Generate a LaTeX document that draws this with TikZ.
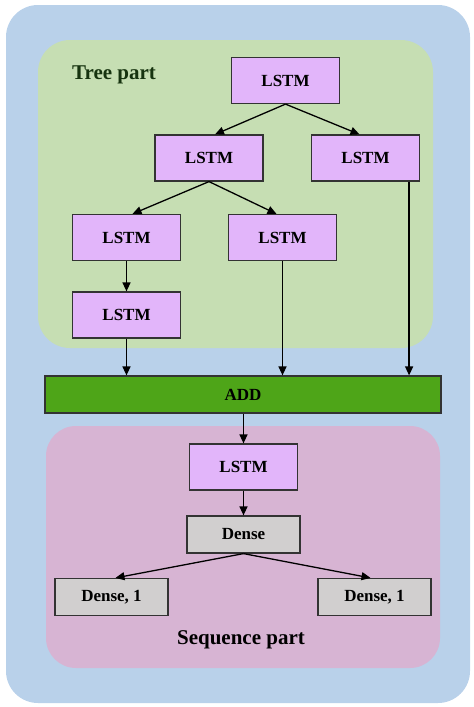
\documentclass[tikz,border=0pt]{standalone}
\usepackage{fontspec}
\setmainfont{Liberation Serif}
\usetikzlibrary{positioning,arrows.meta,calc}
\definecolor{outerblue}{HTML}{B9D1EA}
\definecolor{treegreen}{HTML}{C6DEB3}
\definecolor{seqpink}{HTML}{D7B4D3}
\definecolor{lstmlav}{HTML}{E2B5FA}
\definecolor{densegray}{HTML}{D1CFCF}
\definecolor{addgreen}{HTML}{4EA518}
\definecolor{labgreen}{HTML}{16330F}
\tikzset{
  lstmb/.style={draw=black!80, fill=lstmlav, line width=1.2pt,
    minimum width=108pt, minimum height=46pt, inner sep=0pt,
    font=\fontsize{17}{20}\selectfont\bfseries},
  denseb/.style={draw=black!80, fill=densegray, line width=1.2pt,
    minimum width=113pt, minimum height=37pt, inner sep=0pt,
    font=\fontsize{17}{20}\selectfont\bfseries},
  addb/.style={draw=black!80, fill=addgreen, line width=1.2pt,
    minimum width=396pt, minimum height=37pt, inner sep=0pt,
    font=\fontsize{17}{20}\selectfont\bfseries},
  flow/.style={-{Triangle[length=9pt,width=8pt]}, line width=1.3pt, draw=black},
  partlab/.style={font=\fontsize{21}{24}\selectfont\bfseries, inner sep=0pt},
}

\begin{document}
\begin{tikzpicture}[x=1pt,y=-1pt]
    \useasboundingbox (0,0) rectangle (474,707);
    % panels
    \fill[outerblue, rounded corners=32pt] (6,5) rectangle (470,703);
    \fill[treegreen, rounded corners=32pt] (38,40) rectangle (433,348);
    \fill[seqpink, rounded corners=30pt] (46,426) rectangle (440,668);
    \node[partlab, text=labgreen, anchor=west] (treelab) at (72,75) {Tree part};
    \node[partlab] (seqlab) at (241,640) {Sequence part};
    % tree part
    \node[lstmb] (t1) at (285.5,80.5) {LSTM};
    \node[lstmb] (t2a) at (209,158) {LSTM};
    \node[lstmb] (t2b) at (365.5,158) {LSTM};
    \node[lstmb] (t3a) at (126.5,237.5) {LSTM};
    \node[lstmb] (t3b) at (282.5,237.5) {LSTM};
    \node[lstmb] (t4a) at (126.5,315) {LSTM};
    \node[addb] (add) at (243,394.5) {ADD};
    % sequence part
    \node[lstmb] (s1) at (243.5,467) {LSTM};
    \node[denseb] (d1) at (243.5,534.5) {Dense};
    \node[denseb] (d2a) at (111.5,597) {Dense, 1};
    \node[denseb] (d2b) at (374.5,597) {Dense, 1};
    \coordinate (t2bout) at ([xshift=-11pt]t2b.south east);
    % connectors
    \draw[flow] (t1.south) -- ([xshift=6pt]t2a.north);
    \draw[flow] (t1.south) -- ([xshift=-6pt]t2b.north);
    \draw[flow] (t2a.south) -- ([xshift=6pt]t3a.north);
    \draw[flow] (t2a.south) -- ([xshift=-6pt]t3b.north);
    \draw[flow] (t3a) -- (t4a);
    \draw[flow] (t4a.south) -- (t4a.south |- add.north);
    \draw[flow] (t3b.south) -- (t3b.south |- add.north);
    \draw[flow] (t2bout) -- (t2bout |- add.north);
    \draw[flow] (add.south -| s1.north) -- (s1.north);
    \draw[flow] (s1) -- (d1);
    \draw[flow] (d1.south) -- ([xshift=4pt]d2a.north);
    \draw[flow] (d1.south) -- ([xshift=-4pt]d2b.north);
\end{tikzpicture}
\end{document}
